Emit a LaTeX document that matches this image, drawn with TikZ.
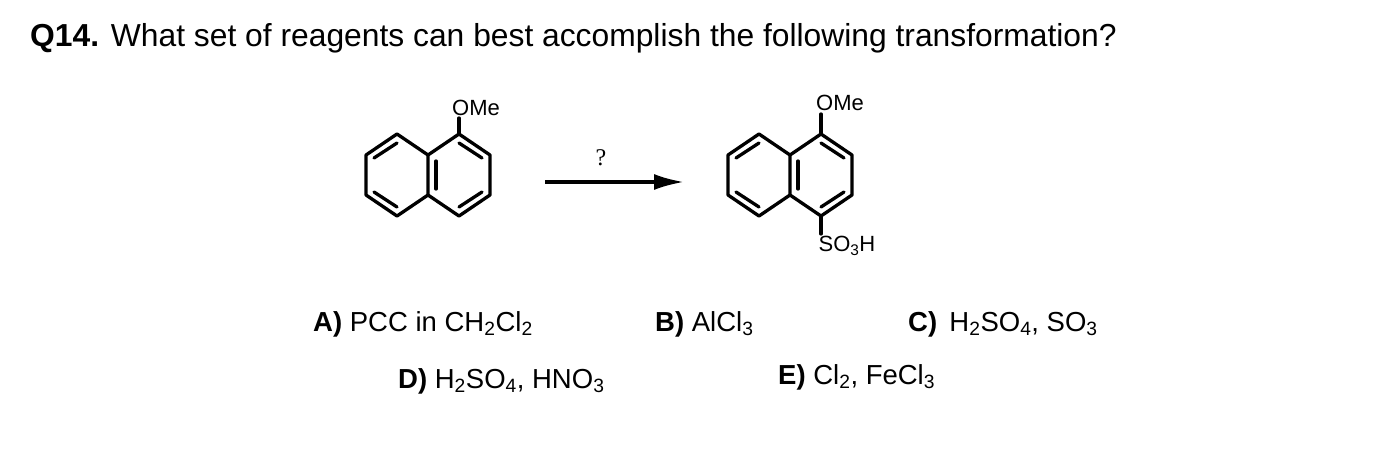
\documentclass[tikz,border=0pt]{standalone}
\usepackage{fontspec}
\setmainfont{Liberation Sans}
\newfontfamily\serifq{Liberation Serif}
\usetikzlibrary{arrows.meta}
\newcommand{\naph}[2]{%
 \begin{scope}[shift={(#1,#2)}]
 \draw[bond] (0,-20) -- (31,-41) -- (62,-20) -- (62,20) -- (31,41) -- (0,20) -- cycle;
 \draw[bond] (0,-20) -- (-31,-41) -- (-62,-20) -- (-62,20) -- (-31,41) -- (0,20);
 \draw[bond] (8,-14) -- (8,14);
 \draw[bond] (31,-32) -- (54,-17);
 \draw[bond] (31,32) -- (54,17);
 \draw[bond] (-31,-32) -- (-54,-17);
 \draw[bond] (-31,32) -- (-54,17);
 \end{scope}}
\newcommand{\sub}[1]{\textsubscript{#1}}
\begin{document}
\begin{tikzpicture}[x=1pt,y=-1pt,bond/.style={line width=3.3pt,line cap=round,line join=round},
 lbl/.style={inner sep=0pt,font=\fontsize{22}{22}\selectfont},
 ans/.style={inner sep=0pt,anchor=base west,font=\fontsize{27.5}{27.5}\selectfont}]
\useasboundingbox (0,0) rectangle (1396,453);
\fill[white] (0,0) rectangle (1396,453);
\node[inner sep=0pt,anchor=base west,font=\fontsize{31.8}{32}\selectfont] (title) at (30,46) {\textbf{Q14.} What set of reagents can best accomplish the following transformation?};
\naph{428}{175}
\draw[bond] (459,134) -- (459,118);
\node[lbl] (ome1) at (476,108) {OMe};
\naph{790}{175}
\draw[bond] (821,134) -- (821,114);
\node[lbl] (ome2) at (840,103) {OMe};
\draw[bond] (821,216) -- (821,234);
\node[lbl] (so3h) at (847,246) {SO\sub{3}H};
\coordinate (a1) at (545,182);
\coordinate (a2) at (684,182);
\draw[line width=3.3pt,-{Latex[length=30pt,width=16pt]}] (a1) -- (a2);
\node[inner sep=0pt,font=\fontsize{24}{24}\serifq] (q) at (601,158) {?};
\node[ans] (A) at (313,331) {\textbf{A)} PCC in CH\sub{2}Cl\sub{2}};
\node[ans] (B) at (655,331) {\textbf{B)} AlCl\sub{3}};
\node[ans] (C) at (908,331) {\textbf{C)}\, H\sub{2}SO\sub{4}, SO\sub{3}};
\node[ans] (D) at (398,388) {\textbf{D)} H\sub{2}SO\sub{4}, HNO\sub{3}};
\node[ans] (E) at (778,384) {\textbf{E)} Cl\sub{2}, FeCl\sub{3}};
\end{tikzpicture}
\end{document}
